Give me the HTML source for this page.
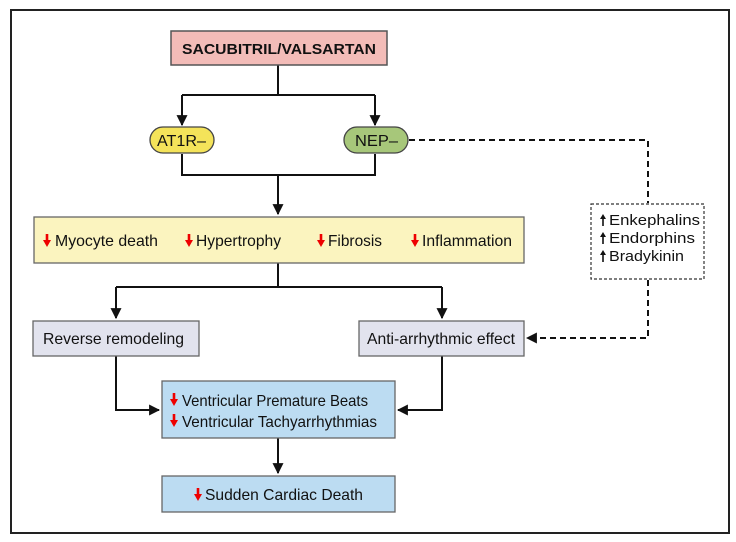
<!DOCTYPE html>
<html><head><meta charset="utf-8"><style>
html,body{margin:0;padding:0;background:#fff;}
svg{display:block;font-family:"Liberation Sans",sans-serif;}
</style></head><body>
<svg width="736" height="542" viewBox="0 0 736 542" xmlns="http://www.w3.org/2000/svg">
<defs>
<marker id="a" viewBox="0 0 10 10" refX="9" refY="5" markerWidth="5.5" markerHeight="5.5" orient="auto"><path d="M0,0 L10,5 L0,10 z" fill="#111"/></marker>
<g id="r"><rect x="-1.3" y="0" width="2.6" height="8" fill="#e00"/><path d="M-4,6 L4,6 L0,13 z" fill="#e00"/></g>
<g id="u"><rect x="-0.8" y="4" width="1.6" height="8" fill="#111"/><path d="M-3,5 L3,5 L0,0 z" fill="#111"/></g>
</defs>
<rect x="11" y="10" width="718" height="523" fill="#fff" stroke="#222" stroke-width="2"/>
<g stroke="#111" stroke-width="2" fill="none">
<path d="M278,65 V95 M182,95 H375"/>
<path d="M182,95 V125" marker-end="url(#a)"/>
<path d="M375,95 V125" marker-end="url(#a)"/>
<path d="M182,154 V175 H375 V154"/>
<path d="M278,175 V214" marker-end="url(#a)"/>
<path d="M278,263 V287 H116 M278,287 H442"/>
<path d="M116,287 V318" marker-end="url(#a)"/>
<path d="M442,287 V318" marker-end="url(#a)"/>
<path d="M116,356 V410 H159" marker-end="url(#a)"/>
<path d="M442,356 V410 H398" marker-end="url(#a)"/>
<path d="M278,438 V473" marker-end="url(#a)"/>
</g>
<g stroke="#111" stroke-width="2" fill="none" stroke-dasharray="6,4">
<path d="M409,140 H648 V203"/>
<path d="M648,280 V338 H527" marker-end="url(#a)"/>
</g>
<rect x="591" y="204" width="113" height="75" fill="#fff" stroke="#333" stroke-width="1.2" stroke-dasharray="3,2"/>
<rect x="171" y="31" width="216" height="34" fill="#f3bcb8" stroke="#555" stroke-width="1.5"/>
<text x="182" y="54" font-weight="bold" font-size="15" fill="#111" textLength="194" lengthAdjust="spacingAndGlyphs">SACUBITRIL/VALSARTAN</text>
<rect x="150" y="127" width="64" height="26" rx="13" fill="#f4e35a" stroke="#444" stroke-width="1.3"/>
<text x="157" y="146" font-size="16" fill="#111" textLength="49" lengthAdjust="spacingAndGlyphs">AT1R–</text>
<rect x="344" y="127" width="64" height="26" rx="13" fill="#a7c77a" stroke="#444" stroke-width="1.3"/>
<text x="355" y="146" font-size="16" fill="#111" textLength="43" lengthAdjust="spacingAndGlyphs">NEP–</text>
<rect x="34" y="217" width="490" height="46" fill="#fbf4bf" stroke="#666" stroke-width="1.3"/>
<g font-size="16" fill="#111">
<use href="#r" x="47" y="234"/><text x="55" y="246" textLength="103" lengthAdjust="spacingAndGlyphs">Myocyte death</text>
<use href="#r" x="189" y="234"/><text x="196" y="246" textLength="85" lengthAdjust="spacingAndGlyphs">Hypertrophy</text>
<use href="#r" x="321" y="234"/><text x="328" y="246" textLength="54" lengthAdjust="spacingAndGlyphs">Fibrosis</text>
<use href="#r" x="415" y="234"/><text x="422" y="246" textLength="90" lengthAdjust="spacingAndGlyphs">Inflammation</text>
</g>
<g font-size="15" fill="#111">
<use href="#u" x="603" y="214"/><text x="609" y="225" textLength="91" lengthAdjust="spacingAndGlyphs">Enkephalins</text>
<use href="#u" x="603" y="232"/><text x="609" y="243" textLength="86" lengthAdjust="spacingAndGlyphs">Endorphins</text>
<use href="#u" x="603" y="250"/><text x="609" y="261" textLength="75" lengthAdjust="spacingAndGlyphs">Bradykinin</text>
</g>
<rect x="33" y="321" width="166" height="35" fill="#e2e3ee" stroke="#666" stroke-width="1.3"/>
<text x="43" y="344" font-size="16" fill="#111" textLength="141" lengthAdjust="spacingAndGlyphs">Reverse remodeling</text>
<rect x="359" y="321" width="165" height="35" fill="#e2e3ee" stroke="#666" stroke-width="1.3"/>
<text x="367" y="344" font-size="16" fill="#111" textLength="148" lengthAdjust="spacingAndGlyphs">Anti-arrhythmic effect</text>
<rect x="162" y="381" width="233" height="57" fill="#bcdcf2" stroke="#666" stroke-width="1.3"/>
<use href="#r" x="174" y="393"/><text x="182" y="406" font-size="16" fill="#111" textLength="186" lengthAdjust="spacingAndGlyphs">Ventricular Premature Beats</text>
<use href="#r" x="174" y="414"/><text x="182" y="427" font-size="16" fill="#111" textLength="195" lengthAdjust="spacingAndGlyphs">Ventricular Tachyarrhythmias</text>
<rect x="162" y="476" width="233" height="36" fill="#bcdcf2" stroke="#666" stroke-width="1.3"/>
<use href="#r" x="198" y="488"/><text x="205" y="500" font-size="16" fill="#111" textLength="158" lengthAdjust="spacingAndGlyphs">Sudden Cardiac Death</text>
</svg>
</body></html>
